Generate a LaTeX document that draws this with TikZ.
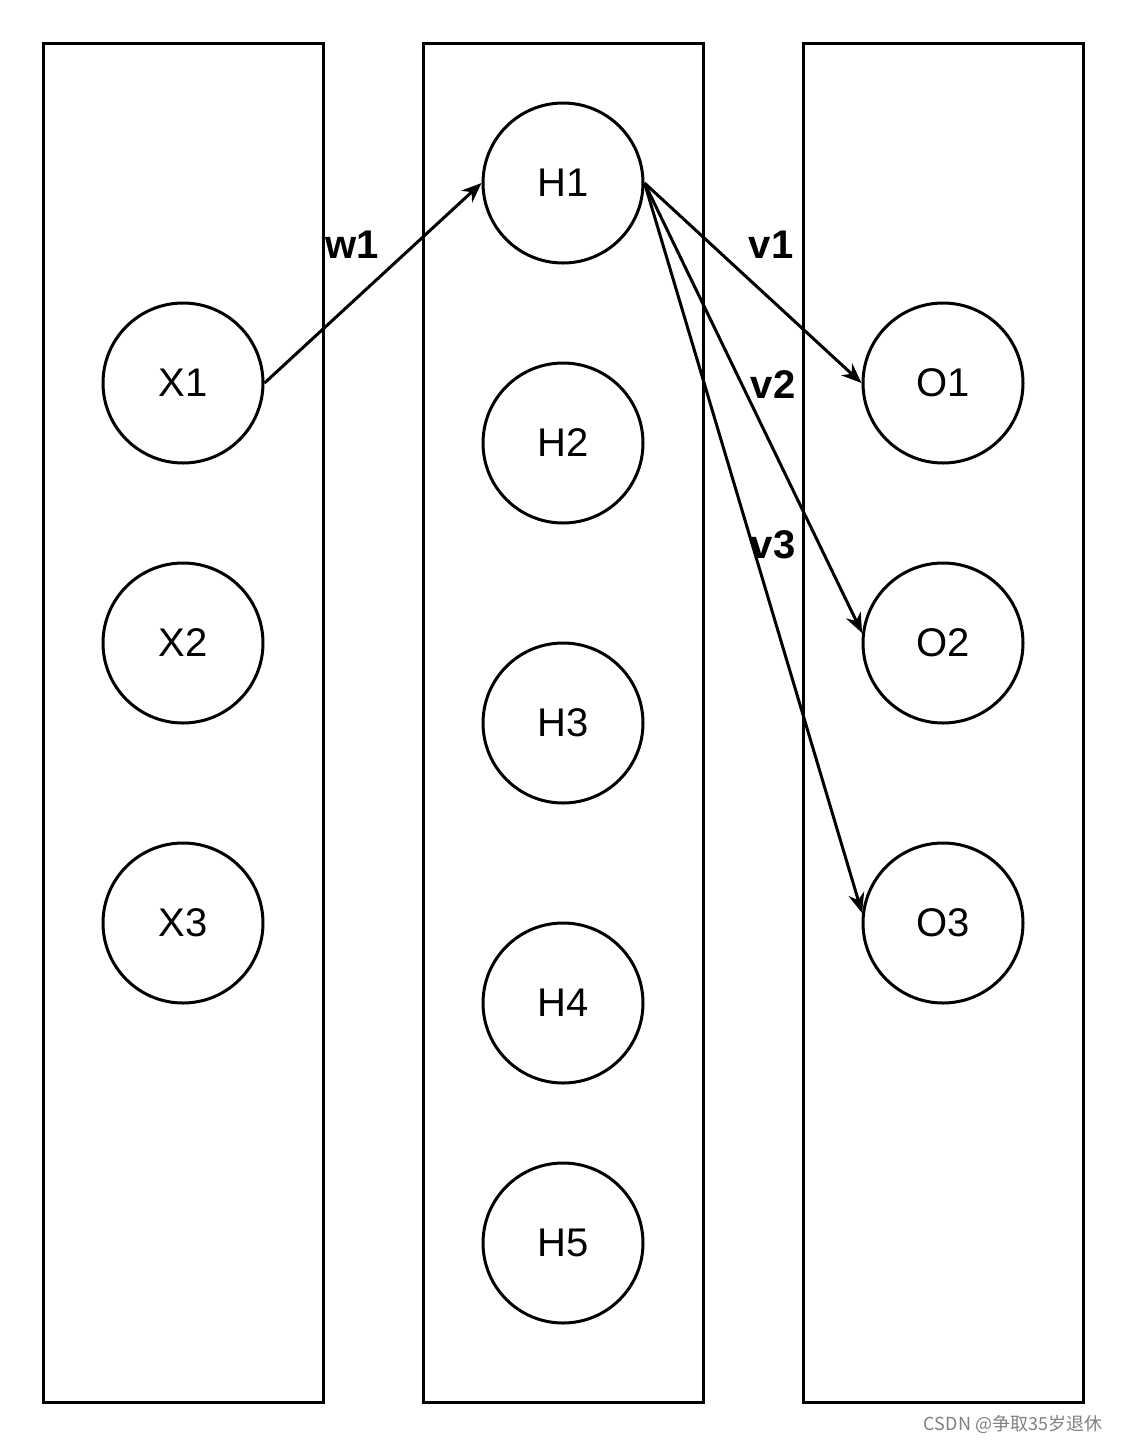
\documentclass[tikz,border=0pt]{standalone}
\usepackage{fontspec}
\setmainfont{Liberation Sans}
\newfontfamily\cjk{Noto Sans CJK SC}
\usetikzlibrary{arrows.meta}
\begin{document}
\begin{tikzpicture}[x=1pt,y=-1pt,
  layer/.style={draw,line width=3pt},
  neuron/.style={draw,circle,line width=3pt,minimum size=160pt,inner sep=0pt,font=\fontsize{40}{40}\selectfont},
  conn/.style={line width=3pt,-{Stealth[length=20pt,width=16pt]}},
  lbl/.style={font=\fontsize{40}{40}\selectfont\bfseries}]
\useasboundingbox (0,0) rectangle (1126,1444);
\draw[layer] (43,43) rectangle (323,1402);
\draw[layer] (423,43) rectangle (703,1402);
\draw[layer] (803,43) rectangle (1083,1402);
\node[neuron] (X1) at (183,383) {X1};
\node[neuron] (X2) at (183,643) {X2};
\node[neuron] (X3) at (183,923) {X3};
\node[neuron] (H1) at (563,183) {H1};
\node[neuron] (H2) at (563,443) {H2};
\node[neuron] (H3) at (563,723) {H3};
\node[neuron] (H4) at (563,1003) {H4};
\node[neuron] (H5) at (563,1243) {H5};
\node[neuron] (O1) at (943,383) {O1};
\node[neuron] (O2) at (943,643) {O2};
\node[neuron] (O3) at (943,923) {O3};
\draw[conn] (X1.east) -- (H1.west);
\draw[conn] (H1.east) -- (O1.west);
\draw[conn] (H1.east) -- (O2.173);
\draw[conn] (H1.east) -- (O3.173);
\node[lbl] (w1) at (352,245) {w1};
\node[lbl] (v1) at (771,245) {v1};
\node[lbl] (v2) at (773,385) {v2};
\node[lbl] (v3) at (773,545) {v3};
\node[text=gray,font=\cjk\fontsize{18}{18}\selectfont] (wm) at (1013,1424) {CSDN @争取35岁退休};
\end{tikzpicture}
\end{document}
